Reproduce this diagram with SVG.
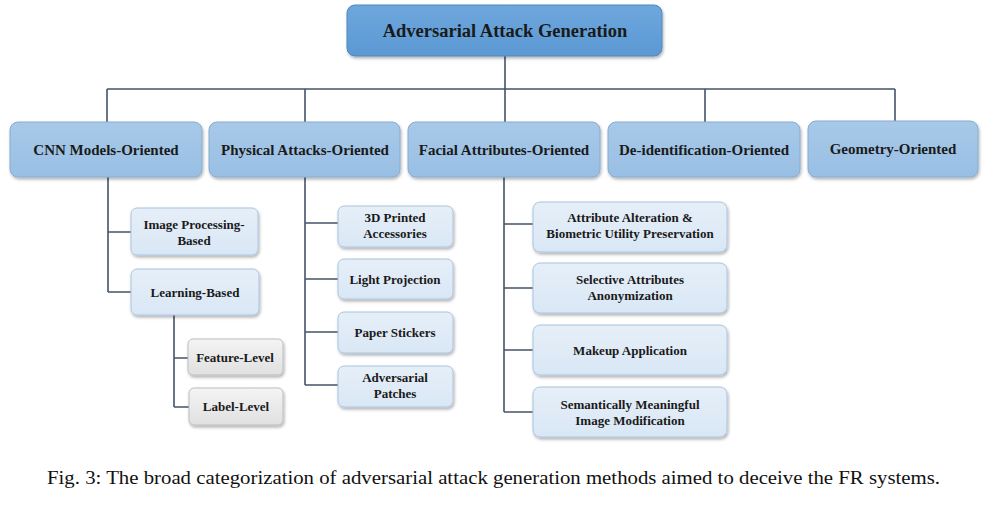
<svg xmlns="http://www.w3.org/2000/svg" width="986" height="505" viewBox="0 0 986 505">
<defs>
<filter id="sh" x="-10%" y="-20%" width="120%" height="150%">
<feDropShadow dx="1" dy="2" stdDeviation="1.5" flood-color="#000" flood-opacity="0.3"/>
</filter>
<linearGradient id="gRoot" x1="0" y1="0" x2="0" y2="1"><stop offset="0" stop-color="#6ea7dd"/><stop offset="1" stop-color="#5b98d3"/></linearGradient>
<linearGradient id="gL1" x1="0" y1="0" x2="0" y2="1"><stop offset="0" stop-color="#a8c9e8"/><stop offset="1" stop-color="#98bfe4"/></linearGradient>
<linearGradient id="gL2" x1="0" y1="0" x2="0" y2="1"><stop offset="0" stop-color="#e6eff8"/><stop offset="1" stop-color="#d9e7f5"/></linearGradient>
<linearGradient id="gGr" x1="0" y1="0" x2="0" y2="1"><stop offset="0" stop-color="#f4f4f4"/><stop offset="1" stop-color="#e0e0e0"/></linearGradient>
</defs>
<style>
.root{fill:url(#gRoot);stroke:#4f88bf;stroke-width:1;filter:url(#sh)}
.l1{fill:url(#gL1);stroke:#86acd2;stroke-width:1;filter:url(#sh)}
.l2{fill:url(#gL2);stroke:#a9c4e0;stroke-width:1;filter:url(#sh)}
.gr{fill:url(#gGr);stroke:#bdbdbd;stroke-width:1;filter:url(#sh)}
text{font-family:"Liberation Serif","Times New Roman",serif;font-weight:bold;fill:#1a1a1a;text-anchor:middle}
.t0{font-size:18.5px}
.t1{font-size:15px}
.t2{font-size:13px}
.cap{font-weight:normal;font-size:19px;fill:#111;text-anchor:start}
#conn path{fill:none;stroke:#44546a;stroke-width:1.6}
</style>
<rect width="986" height="505" fill="#fff"/>
<g id="conn">
<path d="M505 56V89M107 89H895M107 89V122M305 89V122M505 89V122M705 89V122M895 89V121"/>
<path d="M108 177V292M108 232H131M108 292H131"/>
<path d="M174 315V407M174 358H188M174 407H189"/>
<path d="M305 177V385M305 223H338M305 279H338M305 332H338M305 385H338"/>
<path d="M504 177V412M504 224H533M504 288H533M504 350H533M504 412H533"/>
</g>
<g id="n-root"><rect class="root" x="347" y="5" width="315" height="51" rx="8"/><text class="t0" x="505" y="37">Adversarial Attack Generation</text></g>
<g id="n-cnn"><rect class="l1" x="10" y="122" width="192" height="55" rx="8"/><text class="t1" x="106" y="155">CNN Models-Oriented</text></g>
<g id="n-phys"><rect class="l1" x="209" y="122" width="191" height="55" rx="8"/><text class="t1" x="305" y="155">Physical Attacks-Oriented</text></g>
<g id="n-facial"><rect class="l1" x="408" y="122" width="192" height="55" rx="8"/><text class="t1" x="504" y="155">Facial Attributes-Oriented</text></g>
<g id="n-deid"><rect class="l1" x="608" y="122" width="192" height="55" rx="8"/><text class="t1" x="704" y="155">De-identification-Oriented</text></g>
<g id="n-geo"><rect class="l1" x="808" y="121" width="170" height="56" rx="8"/><text class="t1" x="893" y="154">Geometry-Oriented</text></g>
<g id="n-img"><rect class="l2" x="131" y="208" width="127" height="47" rx="6"/><text class="t2" x="194" y="229">Image Processing-</text><text class="t2" x="194" y="245">Based</text></g>
<g id="n-learn"><rect class="l2" x="131" y="269" width="128" height="46" rx="6"/><text class="t2" x="195" y="297">Learning-Based</text></g>
<g id="n-feat"><rect class="gr" x="188" y="339" width="95" height="36" rx="5"/><text class="t2" x="235" y="362">Feature-Level</text></g>
<g id="n-label"><rect class="gr" x="189" y="388" width="94" height="37" rx="5"/><text class="t2" x="236" y="411">Label-Level</text></g>
<g id="n-3d"><rect class="l2" x="338" y="206" width="115" height="41" rx="6"/><text class="t2" x="395" y="222">3D Printed</text><text class="t2" x="395" y="238">Accessories</text></g>
<g id="n-light"><rect class="l2" x="338" y="259" width="115" height="40" rx="6"/><text class="t2" x="395" y="284">Light Projection</text></g>
<g id="n-paper"><rect class="l2" x="338" y="312" width="115" height="41" rx="6"/><text class="t2" x="395" y="337">Paper Stickers</text></g>
<g id="n-patch"><rect class="l2" x="338" y="366" width="115" height="41" rx="6"/><text class="t2" x="395" y="382">Adversarial</text><text class="t2" x="395" y="398">Patches</text></g>
<g id="n-alter"><rect class="l2" x="533" y="202" width="194" height="50" rx="7"/><text class="t2" x="630" y="222">Attribute Alteration &amp;</text><text class="t2" x="630" y="238">Biometric Utility Preservation</text></g>
<g id="n-sel"><rect class="l2" x="533" y="263" width="194" height="50" rx="7"/><text class="t2" x="630" y="284">Selective Attributes</text><text class="t2" x="630" y="300">Anonymization</text></g>
<g id="n-make"><rect class="l2" x="533" y="325" width="194" height="50" rx="7"/><text class="t2" x="630" y="355">Makeup Application</text></g>
<g id="n-sem"><rect class="l2" x="533" y="387" width="194" height="50" rx="7"/><text class="t2" x="630" y="409">Semantically Meaningful</text><text class="t2" x="630" y="425">Image Modification</text></g>
<text class="cap" x="47" y="484" textLength="893" lengthAdjust="spacingAndGlyphs">Fig. 3: The broad categorization of adversarial attack generation methods aimed to deceive the FR systems.</text>
</svg>
